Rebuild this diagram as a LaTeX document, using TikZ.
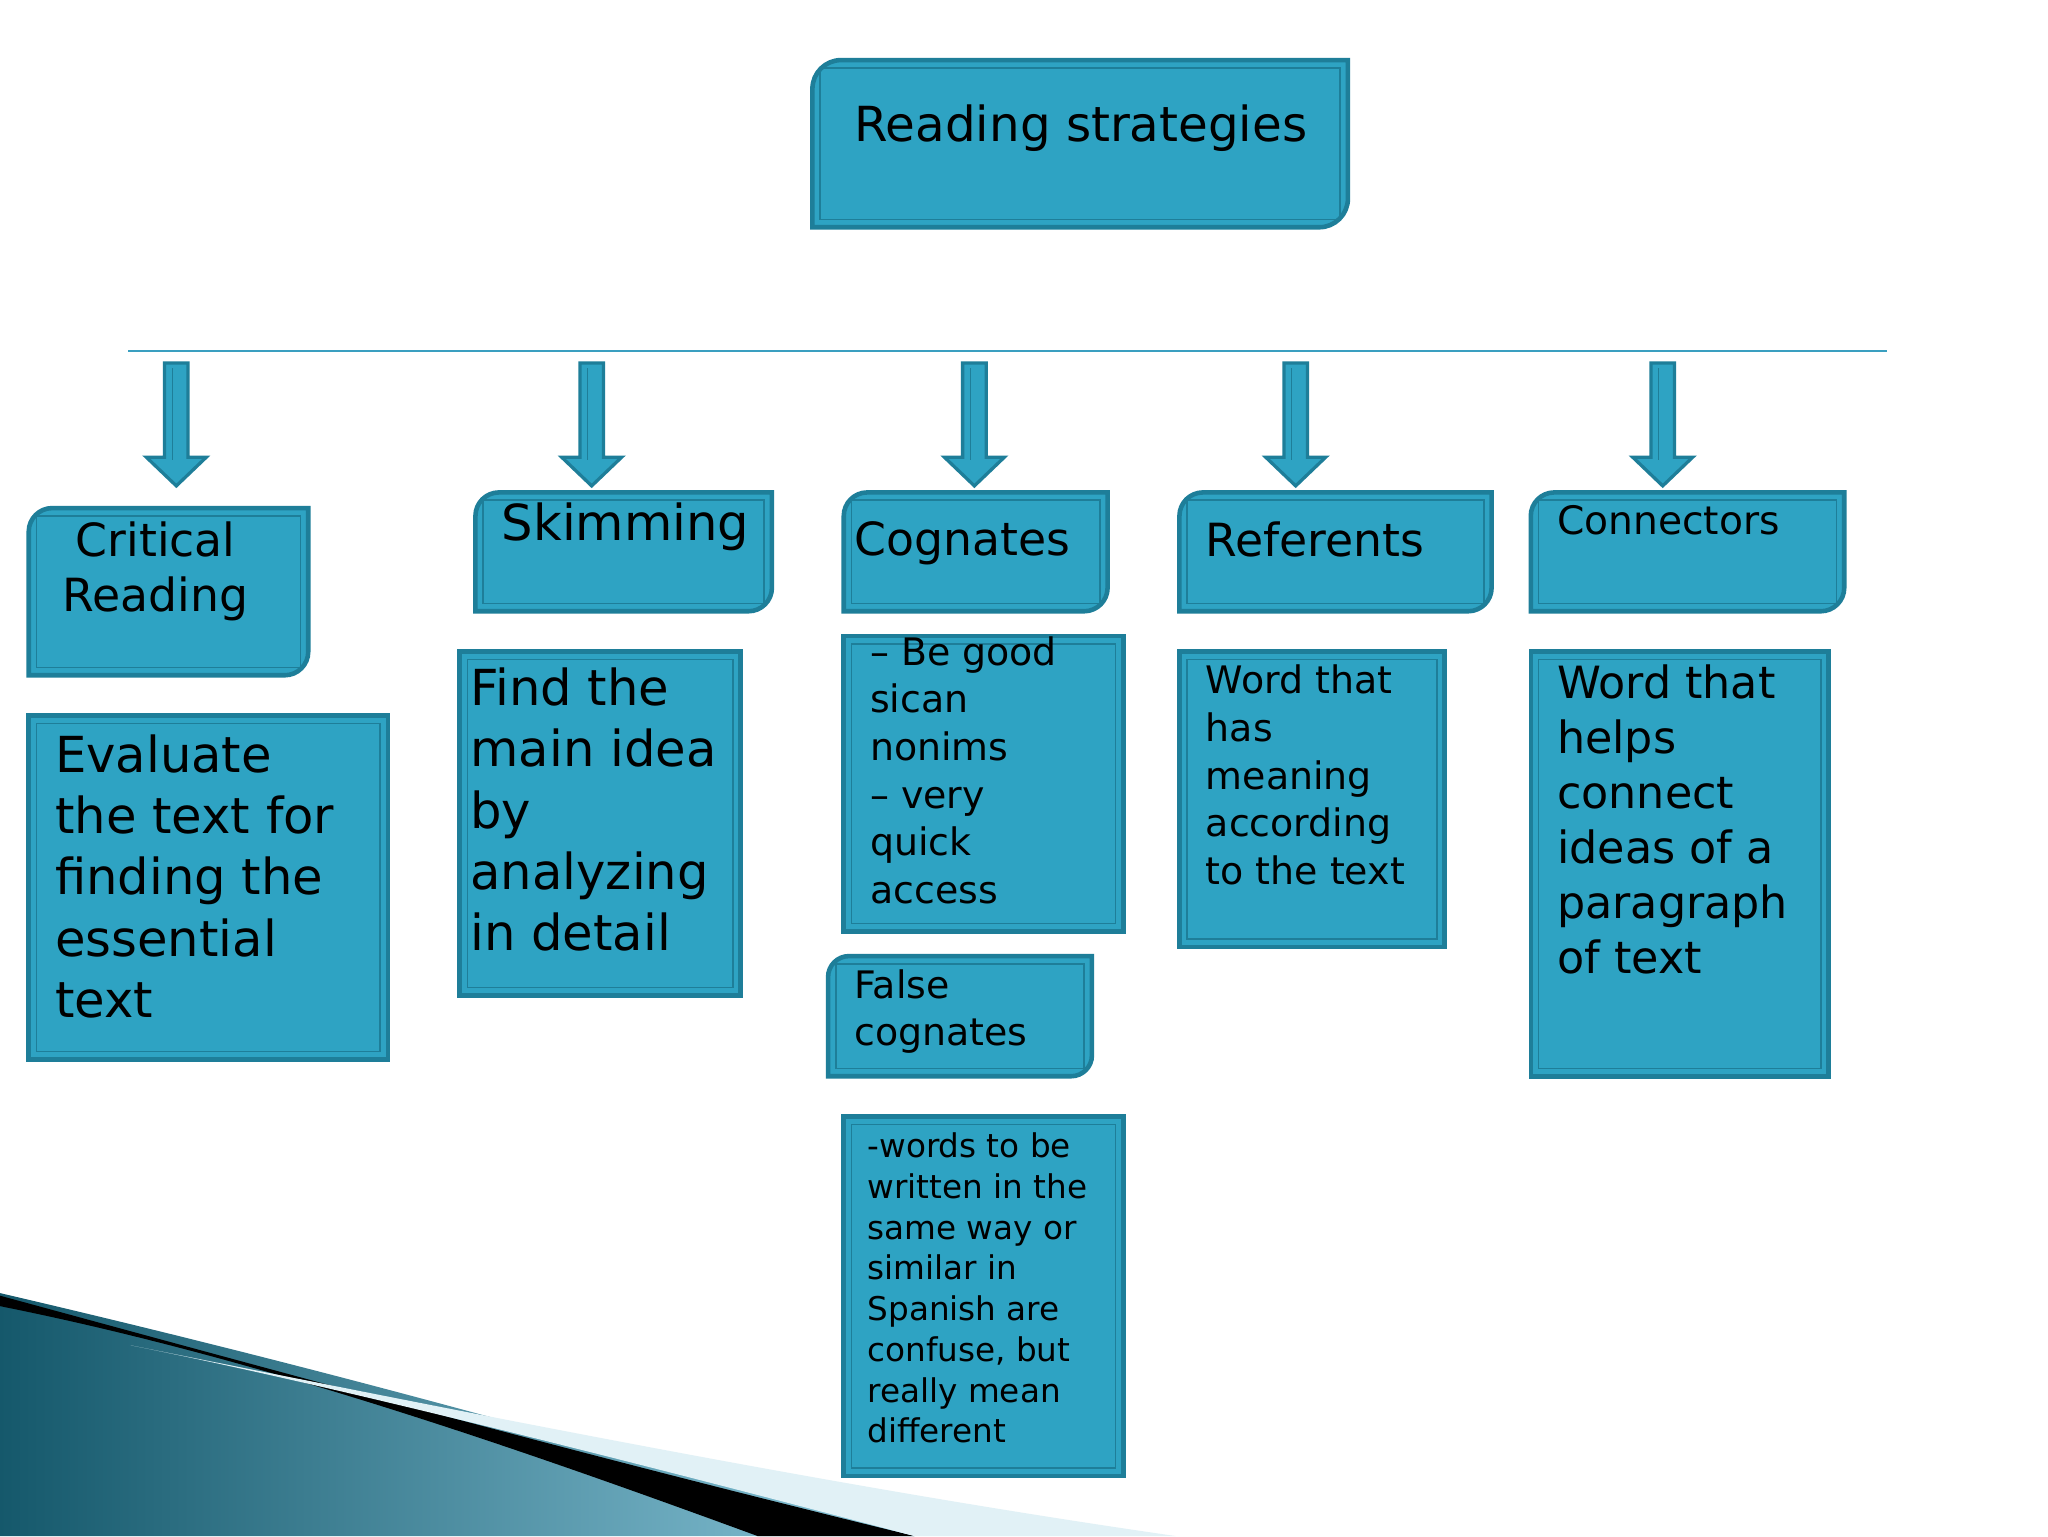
\documentclass[tikz,border=0pt]{standalone}
\usepackage{fontspec}
\setmainfont{DejaVu Sans}
\usetikzlibrary{calc}
\definecolor{boxfill}{HTML}{2EA3C3}
\definecolor{boxline}{HTML}{1E7E99}
\definecolor{linec}{HTML}{3A9FC0}
\tikzset{
  outerb/.style={draw=boxline,line width=3.5pt,fill=boxfill},
  innerb/.style={draw=boxline,line width=1.2pt},
  txt/.style={anchor=north west,align=left,inner sep=0pt,text=black},
  arr/.style={fill=boxfill,draw=boxline,line width=2.5pt,line join=miter}
}
% box: name, x1,y1,x2,y2, corner radius
\newcommand{\mybox}[6]{%
  \draw[outerb] (#2+#6,#3) -- (#4,#3) -- (#4,#5-#6) [rounded corners=#6pt]-- (#4,#5) [sharp corners]-- (#2,#5) -- (#2,#3+#6) [rounded corners=#6pt]-- (#2,#3) [sharp corners]-- cycle;
  \draw[innerb] (#2+6,#3+6) rectangle (#4-6,#5-6);
  \coordinate (#1) at (#2,#3);
}
\newcommand{\myarrow}[2]{%
  \draw[arr] (#1-9,278) -- (#1+9,278) -- (#1+9,350) -- (#1+23,350) -- (#1,372) -- (#1-23,350) -- (#1-9,350) -- cycle;
  \draw[boxline,line width=1pt] (#1-3,282) -- (#1-3,352);
  \coordinate (#2) at (#1,372);
}
\begin{document}
\begin{tikzpicture}[x=1pt,y=-1pt]
\useasboundingbox (0,0) rectangle (1568,1176);
\fill[white] (0,0) rectangle (1568,1176);
% swoosh
\shade[left color=boxline!70!black, right color=linec!60] (0,990) .. controls (300,1060) and (500,1120) .. (700,1176) -- (0,1176) -- cycle;
\fill[black] (0,992) .. controls (250,1060) and (450,1115) .. (700,1176) -- (580,1176) .. controls (400,1110) and (200,1040) .. (0,1000) -- cycle;
\fill[linec!15] (100,1030) .. controls (400,1090) and (650,1140) .. (900,1176) -- (700,1176) .. controls (450,1110) and (250,1060) .. (100,1030) -- cycle;
% title
\mybox{title}{622}{46}{1032}{174}{22}
\node[txt,font=\fontsize{37}{44}\selectfont] (tt) at ($(title)+(32,34)$) {Reading strategies};
% line
\coordinate (la) at (98,269); \coordinate (lb) at (1445,269);
\draw[linec,line width=1.5pt] (la) -- (lb);
\myarrow{135}{a1}\myarrow{453}{a2}\myarrow{746}{a3}\myarrow{992}{a4}\myarrow{1273}{a5}
% headings
\mybox{cr}{22}{389}{236}{517}{18}
\node[txt,font=\fontsize{35}{42}\selectfont,align=center] (crt) at ($(cr)+(26,10)$) {Critical\\Reading};
\mybox{sk}{364}{377}{591}{468}{18}
\node[txt,font=\fontsize{38}{44}\selectfont] (skt) at ($(sk)+(20,8)$) {Skimming};
\mybox{co}{646}{377}{848}{468}{18}
\node[txt,font=\fontsize{35}{42}\selectfont] (cot) at ($(co)+(8,22)$) {Cognates};
\mybox{re}{903}{377}{1142}{468}{18}
\node[txt,font=\fontsize{35}{42}\selectfont] (ret) at ($(re)+(20,22)$) {Referents};
\mybox{cn}{1172}{377}{1412}{468}{18}
\node[txt,font=\fontsize{30}{36}\selectfont] (cnt) at ($(cn)+(20,10)$) {Connectors};
% content
\mybox{ev}{22}{548}{297}{811}{0}
\node[txt,font=\fontsize{38}{47}\selectfont] (evt) at ($(ev)+(20,14)$) {Evaluate\\the text for\\finding the\\essential\\text};
\mybox{fi}{352}{499}{567}{762}{0}
\node[txt,font=\fontsize{38}{47}\selectfont] (fit) at ($(fi)+(8,12)$) {Find the\\main idea\\by\\analyzing\\in detail};
\mybox{bg}{646}{487}{860}{713}{0}
\node[txt,font=\fontsize{29}{36.5}\selectfont] (bgt) at ($(bg)+(20,0)$) {– Be good\\sican\\nonims\\– very\\quick\\access};
\mybox{fc}{634}{732}{836}{824}{16}
\node[txt,font=\fontsize{29}{36}\selectfont] (fct) at ($(fc)+(20,10)$) {False\\cognates};
\mybox{wd}{646}{855}{860}{1130}{0}
\node[txt,font=\fontsize{25}{31.2}\selectfont] (wdt) at ($(wd)+(18,12)$) {-words to be\\written in the\\same way or\\similar in\\Spanish are\\confuse, but\\really mean\\different};
\mybox{wh}{903}{499}{1106}{725}{0}
\node[txt,font=\fontsize{29}{36.5}\selectfont] (wht) at ($(wh)+(20,10)$) {Word that\\has\\meaning\\according\\to the text};
\mybox{wc}{1172}{499}{1400}{824}{0}
\node[txt,font=\fontsize{34}{42}\selectfont] (wct) at ($(wc)+(20,10)$) {Word that\\helps\\connect\\ideas of a\\paragraph\\of text};
\end{tikzpicture}
\end{document}
